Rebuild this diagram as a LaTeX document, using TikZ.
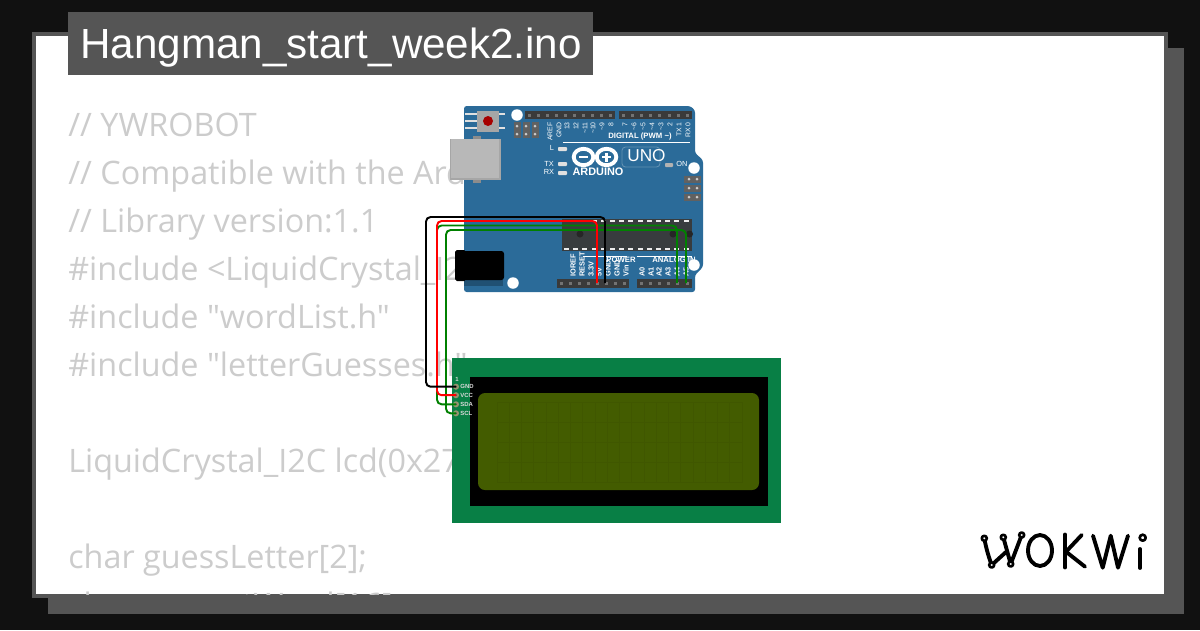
\documentclass[tikz,border=0pt]{standalone}
\usepackage{fontspec}
\newfontfamily\codefont{Open Sans}
\newfontfamily\titlefont{Liberation Sans}
\newfontfamily\boardfont{Liberation Sans}
\usetikzlibrary{positioning,calc}
\definecolor{pagedark}{HTML}{111111}
\definecolor{panelgray}{HTML}{555555}
\definecolor{codegray}{HTML}{CCCCCC}
\definecolor{boardblue}{HTML}{2B6B99}
\definecolor{chipdark}{HTML}{383C3E}
\definecolor{headerdark}{HTML}{3A3A3A}
\definecolor{lcdgreen}{HTML}{087F45}
\definecolor{lcdscreen}{HTML}{435C00}
\definecolor{lcdpin}{HTML}{96966F}
\definecolor{wiregreen}{HTML}{008000}

\begin{document}
\begin{tikzpicture}[x=0.02cm,y=-0.02cm,
code line/.style={anchor=base west,inner sep=0pt,text=codegray,font=\codefont\fontsize{18.4pt}{20pt}\selectfont},
hole/.style={circle,fill=white,minimum size=11.5*0.02cm,inner sep=0pt},
pin top/.style={rotate=90,anchor=east,inner sep=0pt,text=white,font=\boardfont\fontsize{3.9pt}{5pt}\selectfont},
pin bottom/.style={rotate=90,anchor=west,inner sep=0pt,text=white,font=\boardfont\bfseries\fontsize{4.2pt}{5pt}\selectfont},
board text/.style={inner sep=0pt,text=white,font=\boardfont\fontsize{4.2pt}{5pt}\selectfont},
board title/.style={inner sep=0pt,text=white,font=\boardfont\bfseries\fontsize{4.4pt}{5pt}\selectfont},
led/.style={fill=#1,rounded corners=0.5pt},
lcd pin/.style={circle,fill=black!70,draw=lcdpin,line width=1.1pt,minimum size=4*0.02cm,inner sep=0pt},
lcd label/.style={anchor=west,inner sep=0pt,text=white!85!black,font=\boardfont\bfseries\fontsize{3.4pt}{4pt}\selectfont},
wire/.style={line width=1.1pt,rounded corners=2.6pt},
logo/.style={line width=2.2pt,line cap=round,line join=round},
logo node/.style={circle,draw,fill=white,line width=1.5pt,minimum size=5*0.02cm,inner sep=0pt}]

\fill[pagedark] (0,0) rectangle (1200,630);
\useasboundingbox (0,0) rectangle (1200,630);
\fill[panelgray] (48,48) rectangle (1184,614);
\fill[panelgray] (32,32) rectangle (1168,598);
\fill[white] (36,36) rectangle (1164,594);

\begin{scope}
\clip (36,36) rectangle (1164,594);
\node[code line] (line1) at (68,136) {// YWROBOT};
\node[code line] (line2) at (68,184) {// Compatible with the Ard};
\node[code line] (line3) at (68,232) {// Library version:1.1};
\node[code line] (line4) at (68,280) {\#include <LiquidCrystal\_I2};
\node[code line] (line5) at (68,328) {\#include "wordList.h"};
\node[code line] (line6) at (68,376) {\#include "letterGuesses.h"};
\node[code line] (line7) at (68,472) {LiquidCrystal\_I2C lcd(0x27};
\node[code line] (line8) at (68,568) {char guessLetter[2];};
\node[code line] (line9) at (68,616) {char currentWord[16];};
\end{scope}

% board
\fill[boardblue,rounded corners=1.5pt] (464,106) -- (690,106) -- (695,110) -- (695,153) -- (703,160) -- (703,267) -- (695,275) -- (695,292) -- (464,292) -- cycle;
\node[hole] (hole1) at (517,115) {};
\node[hole] (hole2) at (694,168) {};
\node[hole] (hole3) at (694,265) {};
\node[hole] (hole4) at (513,283) {};

% usb and jack
\fill[black!45] (473,136) rectangle (481,183);
\fill[black!35] (450,139) rectangle (501,180);
\fill[black!28] (451,139) rectangle (499,178);
\fill[boardblue!75!black] (464,270) rectangle (503,286);
\fill[black,rounded corners=1pt] (455,250) rectangle (466,281);
\fill[black,rounded corners=1.5pt] (463,251) rectangle (504,280);

% reset
\foreach \y in {114,121,128} \fill[black!12] (465,\y-1) rectangle (477,\y+1);
\foreach \y in {114,128} \fill[black!12] (499,\y-1) rectangle (505,\y+1);
\fill[black!35] (477,111) rectangle (499,132);
\fill[red!65!black] (488,121) circle[radius=5];

% headers
\fill[headerdark] (525,111) rectangle (615,119);
\fill[headerdark] (619,111) rectangle (692,119);
\fill[headerdark] (557,279) rectangle (629,288);
\fill[headerdark] (637,279) rectangle (692,288);
\foreach \x in {529.5,538.5,...,610.5} \fill[black!55] (\x-1.5,113.5) rectangle (\x+1.5,116.5);
\foreach \x in {623.5,632.6,...,688} \fill[black!55] (\x-1.5,113.5) rectangle (\x+1.5,116.5);
\foreach \x in {561.5,570.5,...,625.5} \fill[black!55] (\x-1.5,282) rectangle (\x+1.5,285);
\foreach \x in {641.5,650.6,...,688} \fill[black!55] (\x-1.5,282) rectangle (\x+1.5,285);

% icsp
\foreach \x in {517,526,535} {
\fill[black!62] (\x-3.5,122) rectangle (\x+3.5,138);
\foreach \y in {126,134} \fill[black!20] (\x,\y) circle[radius=1.5];
}
\foreach \y in {179,188,197} {
\fill[black!62] (684,\y-3.5) rectangle (701,\y+3.5);
\foreach \x in {689,697} \fill[black!20] (\x,\y) circle[radius=1.5];
}

% pin names
\foreach \x/\t in {550/AREF,559/GND,567/13,576/12,585/\textasciitilde11,593/\textasciitilde10,602/\textasciitilde9,611/8,625/7,634/\textasciitilde6,643/\textasciitilde5,652/\textasciitilde4,661/\textasciitilde3,670/2,679/TX 1,688/RX 0}
\node[pin top] (top\x) at (\x,122) {\t};
\foreach \x/\t in {573/IOREF,582/RESET,591/3.3V,599/5V,608/GND,617/GND,626/Vin,642/A0,651/A1,659/A2,668/A3,677/A4,686/A5}
\node[pin bottom] (bot\x) at (\x,277) {\t};
\node[board title] (digital) at (640,136) {DIGITAL (PWM \textasciitilde)};
\node[board title] (power) at (621,260) {POWER};
\node[board title] (analog) at (674,260) {ANALOG IN};
\draw[white,line width=0.4pt] (563,142) -- (690,142);
\draw[white,line width=0.4pt] (583,256) -- (627,256);
\draw[white,line width=0.4pt] (637,256) -- (692,256);

% leds
\node[board text] (ledL) at (552,148) {L};
\node[board text] (ledTX) at (549,164) {TX};
\node[board text] (ledRX) at (549,172) {RX};
\node[board text] (ledON) at (682,164) {ON};
\fill[led=black!12] (558,147) rectangle (567,151);
\fill[led=black!12] (558,162) rectangle (567,166);
\fill[led=black!12] (558,171) rectangle (567,175);
\fill[led=black!30] (665,163) rectangle (673,167);

% logo
\draw[white,line width=2.2pt] (583.5,157) ellipse[x radius=9.8,y radius=8.2];
\draw[white,line width=2.2pt] (606.5,157) ellipse[x radius=9.8,y radius=8.2];
\draw[white,line width=1.2pt] (579,157) -- (588,157);
\draw[white,line width=1.2pt] (602,157) -- (611,157) (606.5,152.5) -- (606.5,161.5);
\node[board title,font=\boardfont\bfseries\fontsize{6.2pt}{7pt}\selectfont] (arduino) at (598,172) {ARDUINO};
\draw[boardblue!75!white,line width=0.5pt,rounded corners=2pt] (622,147) rectangle (660,167);
\node[board text,font=\boardfont\fontsize{9.8pt}{11pt}\selectfont] (uno) at (646.5,156) {UNO};

% chip
\fill[chipdark] (562,219) rectangle (692,251);
\foreach \x in {564,573.2,...,687} {
\fill[black!8] (\x,220) rectangle (\x+5,222);
\fill[black!8] (\x,248) rectangle (\x+5,250);
}
\fill[black!85] (580,234) circle[radius=3.5];
\fill[black!85] (673,234) circle[radius=3.5];
\fill[black!85] (689.5,234) circle[radius=3.5];

% lcd
\node[fill=lcdgreen,minimum width=329*0.02cm,minimum height=165*0.02cm,inner sep=0pt] (lcd) at (616.5,440.5) {};
\node[fill=black,minimum width=298*0.02cm,minimum height=129*0.02cm,inner sep=0pt] (lcdmask) at (619,441.5) {};
\node[fill=lcdscreen,rounded corners=4pt,minimum width=281*0.02cm,minimum height=97*0.02cm,inner sep=0pt] (lcdpanel) at (618.5,441.5) {};
\foreach \x in {0,1,...,19} \foreach \r in {0,1,2,3}
\draw[lcdscreen!95!black,line width=0.3pt] (497+12.25*\x,402+20*\r) rectangle ++(12.25,20);
\node[lcd label] (lcdone) at (455,379) {1};
\node[lcd pin] (pGND) at (456,386.7) {};
\node[lcd pin] (pVCC) at (456,395.2) {};
\node[lcd pin] (pSDA) at (456,404.3) {};
\node[lcd pin] (pSCL) at (456,413.3) {};
\node[lcd label] (tGND) at (460,386.7) {GND};
\node[lcd label] (tVCC) at (460,395.2) {VCC};
\node[lcd label] (tSDA) at (460,404.3) {SDA};
\node[lcd label] (tSCL) at (460,413.3) {SCL};

% wires
\coordinate (hGND) at (605,283);
\coordinate (h5V) at (597,283);
\coordinate (hA4) at (677,283);
\coordinate (hA5) at (686,283);
\coordinate (cBlack) at (426,217);
\coordinate (cRed) at (437,221);
\coordinate (cSDA) at (437,225.5);
\coordinate (cSCL) at (446,230);
\draw[wire,wiregreen] (pSDA.center) -| (cSDA) -| (hA4);
\draw[wire,wiregreen] (pSCL.center) -| (cSCL) -| (hA5);
\draw[wire,red] (pVCC.center) -| (cRed) -| (h5V);
\draw[wire,black] (pGND.center) -| (cBlack) -| (hGND);

% title
\fill[panelgray] (68,12) rectangle (593,75);
\node[inner sep=0pt,anchor=base west,text=white,font=\titlefont\fontsize{24pt}{26pt}\selectfont] (title) at (80,58) {Hangman\_start\_week2.ino};

% wokwi mark
\begin{scope}[logo]
\draw (984.3,538.3) .. controls (986,548) and (989,558) .. (991.7,565);
\draw (991.7,565) -- (1006,552);
\draw (1003.3,537.3) -- (1010.7,564);
\draw (1010.7,564) -- (1021.7,535);
\node[logo node] (wa) at (984.3,538.3) {};
\node[logo node] (wb) at (1003.3,537.3) {};
\node[logo node] (wc) at (1021.7,535) {};
\node[logo node] (wd) at (991.7,565) {};
\node[logo node] (we) at (1010.7,564) {};
\draw (1040,550.5) ellipse[x radius=12,y radius=15.5];
\draw (1065,534.5) -- (1065,567.5);
\draw (1081.7,535) -- (1066,551.7) -- (1085,566.7);
\draw (1093,535.7) -- (1102.7,567.7) -- (1110.7,535.7) -- (1118,567.7) -- (1128,535.7);
\draw (1140,549) -- (1140,568);
\node[logo node,minimum size=6*0.02cm] (wdot) at (1142.7,537.7) {};
\end{scope}
\end{tikzpicture}
\end{document}
